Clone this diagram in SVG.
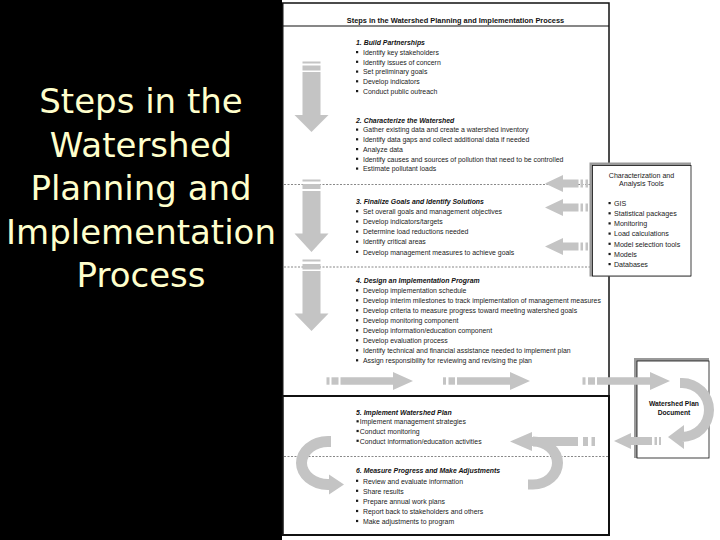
<svg xmlns="http://www.w3.org/2000/svg" width="720" height="540" viewBox="0 0 720 540">
<defs>
<style>
.lt{font-family:"DejaVu Sans","Liberation Sans",sans-serif;font-size:34px;fill:#FFFFCC;text-anchor:middle}
.hd{font-family:"Liberation Sans",Arial,sans-serif;font-size:7.4px;font-weight:bold;fill:#111;text-anchor:middle}
.st{font-family:"Liberation Sans",Arial,sans-serif;font-size:6.9px;font-weight:bold;font-style:italic;fill:#111}
.bt{font-family:"Liberation Sans",Arial,sans-serif;font-size:6.9px;fill:#1a1a1a}
.ct{font-family:"Liberation Sans",Arial,sans-serif;font-size:7.1px;fill:#1a1a1a}
.pd{font-family:"Liberation Sans",Arial,sans-serif;font-size:6.7px;font-weight:bold;fill:#111;text-anchor:middle}
.bl{fill:#1a1a1a}
.arr{fill:#c4c4c4;stroke:none}
.dash{stroke:#555;stroke-width:0.7;stroke-dasharray:2 1.5;fill:none}
.box{fill:#fff;stroke:#111}
.shadow{fill:#999}
</style>
</defs>
<rect x="0" y="0" width="720" height="540" fill="#fff"/>
<rect x="0" y="0" width="282" height="540" fill="#000"/>
<g id="left-title">
<text class="lt" x="141" y="113">Steps in the</text>
<text class="lt" x="141" y="157">Watershed</text>
<text class="lt" x="141" y="200">Planning and</text>
<text class="lt" x="141" y="244">Implementation</text>
<text class="lt" x="141" y="287">Process</text>
</g>
<g id="main-box">
<rect class="box" x="282.75" y="3" width="326.25" height="393" stroke-width="1.5"/>
<rect class="box" x="282.75" y="396" width="326.25" height="139" stroke-width="2"/>
<line x1="282.75" y1="26" x2="609" y2="26" stroke="#111" stroke-width="1.2"/>
<text class="hd" x="455.5" y="22.5">Steps in the Watershed Planning and Implementation Process</text>
<line class="dash" x1="284" y1="184.5" x2="608" y2="184.5"/>
<line class="dash" x1="284" y1="267" x2="608" y2="267"/>
<line class="dash" x1="284" y1="456.5" x2="608" y2="456.5"/>
</g>
<g id="step1">
<text class="st" x="356" y="45">1. Build Partnerships</text>
<rect class="bl" x="356" y="51" width="2.2" height="2.2"/><text class="bt" x="363" y="54.8">Identify key stakeholders</text>
<rect class="bl" x="356" y="60.7" width="2.2" height="2.2"/><text class="bt" x="363" y="64.5">Identify issues of concern</text>
<rect class="bl" x="356" y="70.5" width="2.2" height="2.2"/><text class="bt" x="363" y="74.3">Set preliminary goals</text>
<rect class="bl" x="356" y="80.2" width="2.2" height="2.2"/><text class="bt" x="363" y="84">Develop indicators</text>
<rect class="bl" x="356" y="90" width="2.2" height="2.2"/><text class="bt" x="363" y="93.8">Conduct public outreach</text>
</g>
<g id="step2">
<text class="st" x="356" y="122.5">2. Characterize the Watershed</text>
<rect class="bl" x="356" y="128.5" width="2.2" height="2.2"/><text class="bt" x="363" y="132.3">Gather existing data and create a watershed inventory</text>
<rect class="bl" x="356" y="138.2" width="2.2" height="2.2"/><text class="bt" x="363" y="142">Identify data gaps and collect additional data if needed</text>
<rect class="bl" x="356" y="148" width="2.2" height="2.2"/><text class="bt" x="363" y="151.8">Analyze data</text>
<rect class="bl" x="356" y="157.7" width="2.2" height="2.2"/><text class="bt" x="363" y="161.5">Identify causes and sources of pollution that need to be controlled</text>
<rect class="bl" x="356" y="167.5" width="2.2" height="2.2"/><text class="bt" x="363" y="171.3">Estimate pollutant loads</text>
</g>
<g id="step3">
<text class="st" x="356" y="204">3. Finalize Goals and Identify Solutions</text>
<rect class="bl" x="356" y="210.2" width="2.2" height="2.2"/><text class="bt" x="363" y="214">Set overall goals and management objectives</text>
<rect class="bl" x="356" y="220.4" width="2.2" height="2.2"/><text class="bt" x="363" y="224.2">Develop indicators/targets</text>
<rect class="bl" x="356" y="230.5" width="2.2" height="2.2"/><text class="bt" x="363" y="234.3">Determine load reductions needed</text>
<rect class="bl" x="356" y="240.6" width="2.2" height="2.2"/><text class="bt" x="363" y="244.4">Identify critical areas</text>
<rect class="bl" x="356" y="250.7" width="2.2" height="2.2"/><text class="bt" x="363" y="254.5">Develop management measures to achieve goals</text>
</g>
<g id="step4">
<text class="st" x="356" y="283">4. Design an Implementation Program</text>
<rect class="bl" x="356" y="289.2" width="2.2" height="2.2"/><text class="bt" x="363" y="293">Develop implementation schedule</text>
<rect class="bl" x="356" y="299.2" width="2.2" height="2.2"/><text class="bt" x="363" y="303">Develop interim milestones to track implementation of management measures</text>
<rect class="bl" x="356" y="309.2" width="2.2" height="2.2"/><text class="bt" x="363" y="313">Develop criteria to measure progress toward meeting watershed goals</text>
<rect class="bl" x="356" y="319.2" width="2.2" height="2.2"/><text class="bt" x="363" y="323">Develop monitoring component</text>
<rect class="bl" x="356" y="329.2" width="2.2" height="2.2"/><text class="bt" x="363" y="333">Develop information/education component</text>
<rect class="bl" x="356" y="339.2" width="2.2" height="2.2"/><text class="bt" x="363" y="343">Develop evaluation process</text>
<rect class="bl" x="356" y="349.2" width="2.2" height="2.2"/><text class="bt" x="363" y="353">Identify technical and financial assistance needed to implement plan</text>
<rect class="bl" x="356" y="359.2" width="2.2" height="2.2"/><text class="bt" x="363" y="363">Assign responsibility for reviewing and revising the plan</text>
</g>
<g id="step5">
<text class="st" x="356" y="414.5">5. Implement Watershed Plan</text>
<rect class="bl" x="356.5" y="420.2" width="2.2" height="2.2"/><text class="bt" x="359.8" y="424">Implement management strategies</text>
<rect class="bl" x="356.5" y="429.9" width="2.2" height="2.2"/><text class="bt" x="359.8" y="433.7">Conduct monitoring</text>
<rect class="bl" x="356.5" y="439.7" width="2.2" height="2.2"/><text class="bt" x="359.8" y="443.5">Conduct information/education activities</text>
</g>
<g id="step6">
<text class="st" x="356" y="473">6. Measure Progress and Make Adjustments</text>
<rect class="bl" x="356" y="479.7" width="2.2" height="2.2"/><text class="bt" x="363" y="483.5">Review and evaluate information</text>
<rect class="bl" x="356" y="489.7" width="2.2" height="2.2"/><text class="bt" x="363" y="493.5">Share results</text>
<rect class="bl" x="356" y="499.7" width="2.2" height="2.2"/><text class="bt" x="363" y="503.5">Prepare annual work plans</text>
<rect class="bl" x="356" y="509.9" width="2.2" height="2.2"/><text class="bt" x="363" y="513.7">Report back to stakeholders and others</text>
<rect class="bl" x="356" y="519.9" width="2.2" height="2.2"/><text class="bt" x="363" y="523.7">Make adjustments to program</text>
</g>
<g id="char-tools">
<rect class="shadow" x="589.5" y="162.5" width="101.5" height="114"/>
<rect class="box" x="592.5" y="165.5" width="98.5" height="110.5" stroke-width="0.8"/>
<text class="ct" x="641.5" y="177.5" text-anchor="middle">Characterization and</text>
<text class="ct" x="641.5" y="186" text-anchor="middle">Analysis Tools</text>
<rect class="bl" x="608.5" y="202" width="2.2" height="2.2"/><text class="ct" x="614" y="205.8">GIS</text>
<rect class="bl" x="608.5" y="212.2" width="2.2" height="2.2"/><text class="ct" x="614" y="216">Statistical packages</text>
<rect class="bl" x="608.5" y="222.3" width="2.2" height="2.2"/><text class="ct" x="614" y="226.1">Monitoring</text>
<rect class="bl" x="608.5" y="232.5" width="2.2" height="2.2"/><text class="ct" x="614" y="236.3">Load calculations</text>
<rect class="bl" x="608.5" y="242.7" width="2.2" height="2.2"/><text class="ct" x="614" y="246.5">Model selection tools</text>
<rect class="bl" x="608.5" y="252.9" width="2.2" height="2.2"/><text class="ct" x="614" y="256.7">Models</text>
<rect class="bl" x="608.5" y="263" width="2.2" height="2.2"/><text class="ct" x="614" y="266.8">Databases</text>
</g>
<g id="plan-doc">
<rect class="shadow" x="634" y="358" width="75" height="100"/>
<rect class="box" x="637" y="361" width="72" height="97" stroke-width="0.8"/>
<text class="pd" x="674" y="405.8">Watershed Plan</text>
<text class="pd" x="674" y="415.2">Document</text>
</g>
<g id="connectors">
<!-- down arrows -->
<rect class="arr" x="302.5" y="61.5" width="18" height="2"/>
<rect class="arr" x="302.5" y="65.5" width="18" height="5"/>
<path class="arr" d="M302.5,72 H320.5 V115 H328.5 L311.5,132 L294.5,115 H302.5 Z"/>
<rect class="arr" x="302.5" y="179.5" width="18" height="2"/>
<rect class="arr" x="302.5" y="184" width="18" height="5"/>
<path class="arr" d="M302.5,191 H320.5 V233.5 H328.5 L311.5,252 L294.5,233.5 H302.5 Z"/>
<rect class="arr" x="302.5" y="259.5" width="18" height="2"/>
<rect class="arr" x="302.5" y="264" width="18" height="5.5"/>
<path class="arr" d="M302.5,271 H320.5 V313.5 H328.5 L311.5,331 L294.5,313.5 H302.5 Z"/>
<!-- right arrows row -->
<rect class="arr" x="326.5" y="377.3" width="3" height="7.4"/>
<rect class="arr" x="331.5" y="377.3" width="7" height="7.4"/>
<path class="arr" d="M340.5,377.3 H393 V372 L413,381 L393,390 V384.7 H340.5 Z"/>
<rect class="arr" x="443" y="377.3" width="3" height="7.4"/>
<rect class="arr" x="448.5" y="377.3" width="6.5" height="7.4"/>
<path class="arr" d="M457,377.3 H510 V372 L530,381 L510,390 V384.7 H457 Z"/>
<rect class="arr" x="582.5" y="377.3" width="3" height="7.4"/>
<rect class="arr" x="588" y="377.3" width="7" height="7.4"/>
<path class="arr" d="M597,377.3 H650 V372 L670,381 L650,390 V384.7 H597 Z"/>
<!-- left arrows from tools box -->
<path class="arr" d="M545,183.5 L563,175 V179.5 H578.5 V187.5 H563 V192 Z"/>
<rect class="arr" x="580.5" y="179.5" width="2.5" height="8"/>
<rect class="arr" x="585.5" y="179.5" width="2.5" height="8"/>
<path class="arr" d="M545,207.5 L563,199 V203.5 H578.5 V211.5 H563 V216 Z"/>
<rect class="arr" x="580.5" y="203.5" width="2.5" height="8"/>
<rect class="arr" x="585.5" y="203.5" width="2.5" height="8"/>
<path class="arr" d="M545,246.5 L563,238 V242.5 H578.5 V250.5 H563 V255 Z"/>
<rect class="arr" x="580.5" y="242.5" width="2.5" height="8"/>
<rect class="arr" x="585.5" y="242.5" width="2.5" height="8"/>
<!-- plan document loop -->
<path class="arr" d="M680,378 H682 A32,32 0 0 1 682,442 H684 V449 L668,437 L684,425 V432 H682 A22,22 0 0 0 682,388 H680 Z"/>
<path class="arr" d="M614,441 L631,433 V437 H652 V445 H631 V449 Z"/>
<rect class="arr" x="654.5" y="437" width="2.5" height="8"/>
<rect class="arr" x="659" y="437" width="2" height="8"/>
<!-- step 5/6 loops -->
<path class="arr" d="M533,436.5 A30,26.5 0 0 1 533,489.5 H528 V479.5 H533 A19,16.5 0 0 0 533,446.5 Z"/>
<path class="arr" d="M510,441.5 L532,432 V437 H578 V446 H532 V451 Z"/>
<rect class="arr" x="583" y="437" width="5" height="9"/>
<rect class="arr" x="591.5" y="437" width="3.5" height="9"/>
<path class="arr" d="M331,436 H328 A32,27 0 0 0 328,490 H329 V494.5 L344,484.5 L329,474.5 V479 H328 A21,16 0 0 1 328,447 H331 Z"/>
</g>
</svg>
